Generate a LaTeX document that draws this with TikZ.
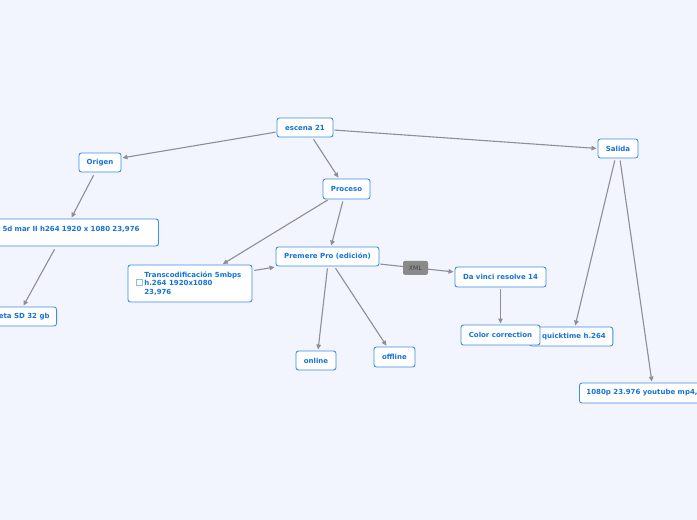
\documentclass[tikz,border=0pt]{standalone}
\usepackage{fontspec}
\setmainfont{DejaVu Sans}
\usepackage{xcolor}
\usetikzlibrary{arrows.meta}
\definecolor{paper}{HTML}{F2F5FD}
\definecolor{ink}{HTML}{1672D8}
\definecolor{rim}{HTML}{3D8DEB}
\definecolor{wire}{HTML}{8E8E93}
\definecolor{tagfill}{HTML}{8A8A8A}
\definecolor{tagink}{HTML}{454545}
\newcommand{\tick}{\fcolorbox{rim!60}{white}{\rule{0pt}{5.5pt}\rule{5.5pt}{0pt}}}
\tikzset{
  idea/.style={
    draw=rim,
    line width=0.9pt,
    rounded corners=2.5pt,
    fill=white,
    text=ink,
    font=\bfseries\fontsize{7}{8.6}\selectfont,
    inner xsep=7pt,
    inner ysep=2pt,
    minimum height=19pt
  },
  tag/.style={
    fill=tagfill,
    rounded corners=2pt,
    text=tagink,
    font=\fontsize{6.2}{7}\selectfont,
    minimum width=25pt,
    minimum height=14pt,
    inner sep=1pt
  },
  link/.style={-{Triangle[length=5pt,width=4.5pt]},draw=wire,line width=1.1pt,shorten <=1pt,shorten >=1pt}
}
\begin{document}
\begin{tikzpicture}[x=1pt,y=-1pt]
  \useasboundingbox (0,0) rectangle (697,520);
  \clip (0,0) rectangle (697,520);
  \fill[paper] (0,0) rectangle (697,520);

  \node[idea,minimum width=56pt] (escena) at (305,127.5) {escena 21};
  \node[idea,minimum width=42pt] (origen) at (100,162.5) {Origen};
  \node[idea,minimum width=47pt,minimum height=20pt] (proceso) at (346.5,189) {Proceso};
  \node[idea,minimum width=40pt] (salida) at (618,148.5) {Salida};
  \node[idea,text width=149pt,align=left,minimum height=27pt,text depth=8pt] (camara) at (77,232.5) {5d mar II h264 1920 x 1080 23,976};
  \node[idea,anchor=east] (tarjeta) at (57,316.5) {Tarjeta SD 32 gb};
  \node[idea,minimum width=124pt,minimum height=37pt] (transcod) at (190,283.5)
    {\setlength{\fboxsep}{0pt}\setlength{\fboxrule}{0.6pt}\tick\hspace{2pt}\parbox[c]{100pt}{\raggedright Transcodificación 5mbps\\h.264 1920x1080\\23,976}};
  \node[idea,minimum width=103pt] (premere) at (327.5,256.5) {Premere Pro (edición)};
  \node[idea,minimum width=40pt] (online) at (316,360.5) {online};
  \node[idea,minimum width=41pt,minimum height=20pt] (offline) at (394.5,357) {offline};
  \node[idea,minimum width=91pt,minimum height=20pt] (davinci) at (500.5,277) {Da vinci resolve 14};
  \node[idea,minimum width=80pt] (quicktime) at (571,336.5) {\hspace{6pt}quicktime h.264};
  \node[idea,minimum width=79pt,minimum height=20pt] (color) at (500.5,335) {Color correction};
  \node[idea,anchor=west,minimum height=20pt] (youtube) at (579,393) {1080p 23.976 youtube mp4,};

  \draw[link] ([yshift=-4.5pt]escena.west) -- ([yshift=4.5pt]origen.east);
  \draw[link] ([xshift=8pt,yshift=-1pt]escena.south) -- ([xshift=-7.5pt]proceso.north);
  \draw[link] ([yshift=-2.5pt]escena.east) -- (salida.west);
  \draw[link] ([xshift=-6pt,yshift=-2pt]origen.south) -- ([xshift=-6pt]camara.north);
  \draw[link] ([xshift=-22pt,yshift=-2pt]camara.south) -- ([xshift=-34pt]tarjeta.north east);
  \draw[link] ([xshift=6pt]proceso.south west) -- ([xshift=32pt]transcod.north);
  \draw[link] ([xshift=-3.5pt,yshift=-1pt]proceso.south) -- ([xshift=3.5pt]premere.north);
  \draw[link] ([xshift=1pt,yshift=-6pt]transcod.north east) -- ([yshift=-0.5pt]premere.south west);
  \draw[link] ([yshift=-1pt]premere.south) -- ([xshift=2pt]online.north);
  \draw[link] ([xshift=7.5pt,yshift=-1pt]premere.south) -- ([xshift=-7.5pt]offline.north);
  \draw[link] ([yshift=-7.5pt]premere.east) -- node[tag,pos=0.48] (xml) {XML} ([yshift=5pt]davinci.west);
  \draw[link] ([yshift=-1pt]davinci.south) -- (color.north);
  \draw[link] ([xshift=-3pt,yshift=-1pt]salida.south) -- ([xshift=4pt]quicktime.north);
  \draw[link] ([xshift=2pt,yshift=-1pt]salida.south) -- ([xshift=73pt]youtube.north west);
\end{tikzpicture}
\end{document}
